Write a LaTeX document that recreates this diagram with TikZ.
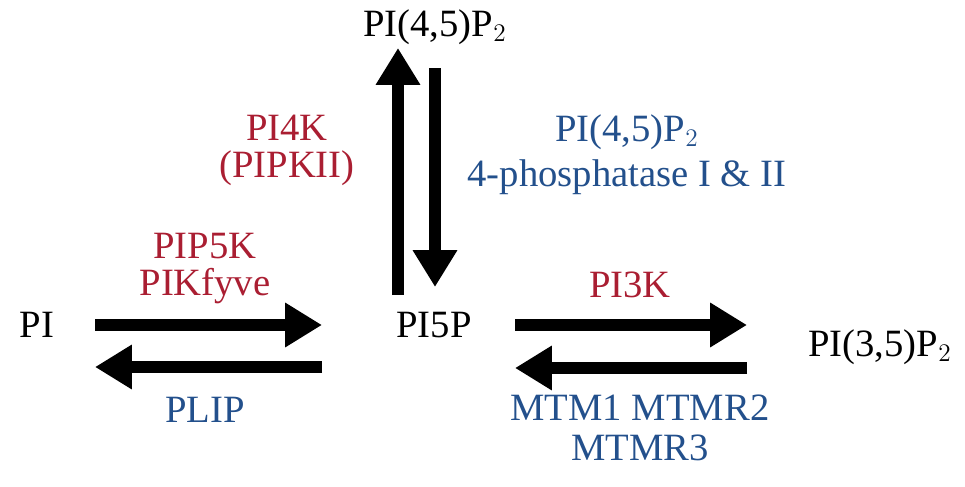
\documentclass[tikz,border=0pt]{standalone}
\usepackage{fontspec}
\setmainfont{Liberation Serif}
\usetikzlibrary{arrows.meta}
\definecolor{enzred}{RGB}{170,30,50}
\definecolor{enzblue}{RGB}{35,80,140}
\tikzset{
  fat/.style={line width=6.8pt,-{Triangle[length=21pt,width=24pt]}},
  lbl/.style={inner sep=0pt,font=\fontsize{22}{25}\selectfont},
  red/.style={lbl,text=enzred},
  blue/.style={lbl,text=enzblue}
}
\begin{document}
\begin{tikzpicture}[x=0.02cm,y=-0.02cm]
\useasboundingbox (0,0) rectangle (965,487);
\node[lbl] (p45) at (435,27) {PI(4,5)P$_2$};
\node[lbl] (pi) at (37,325) {PI};
\node[lbl] (pi5p) at (434,325) {PI5P};
\node[lbl] (p35) at (880,347) {PI(3,5)P$_2$};
\coordinate (u1) at (398,295); \coordinate (u2) at (398,48);
\coordinate (d1) at (435,68); \coordinate (d2) at (435,287);
\draw[fat] (u1) -- (u2);
\draw[fat] (d1) -- (d2);
\coordinate (a1) at (95,325); \coordinate (a2) at (322,325);
\coordinate (b1) at (322,367); \coordinate (b2) at (95,367);
\draw[fat] (a1) -- (a2);
\draw[fat] (b1) -- (b2);
\coordinate (c1) at (515,325); \coordinate (c2) at (747,325);
\coordinate (e1) at (747,368); \coordinate (e2) at (515,368);
\draw[fat] (c1) -- (c2);
\draw[fat] (e1) -- (e2);
\node[red] (k1) at (287,128) {PI4K};
\node[red] (k2) at (287,168) {(PIPKII)};
\node[blue] (q1) at (627,132) {PI(4,5)P$_2$};
\node[blue] (q2) at (627,177) {4-phosphatase I \& II};
\node[red] (r1) at (205,246) {PIP5K};
\node[red] (r2) at (205,286) {PIKfyve};
\node[red] (r3) at (630,285) {PI3K};
\node[blue] (s1) at (205,410) {PLIP};
\node[blue] (s2) at (640,408) {MTM1 MTMR2};
\node[blue] (s3) at (640,448) {MTMR3};
\end{tikzpicture}
\end{document}
